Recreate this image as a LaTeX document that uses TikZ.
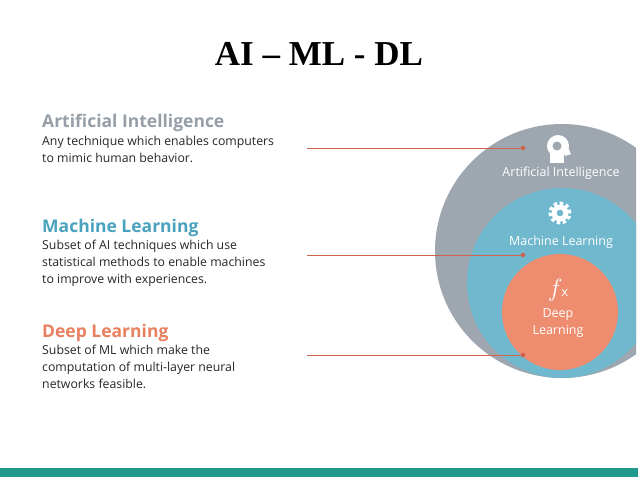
\documentclass[tikz,border=0pt]{standalone}
\usepackage{fontspec}
\setmainfont{Open Sans}
\newfontfamily\titlefont{Liberation Serif}
\definecolor{aigray}{RGB}{158,166,176}
\definecolor{mlblue}{RGB}{112,184,206}
\definecolor{dlorange}{RGB}{238,140,112}
\definecolor{hgray}{RGB}{150,158,168}
\definecolor{hblue}{RGB}{74,162,190}
\definecolor{horange}{RGB}{232,128,96}
\definecolor{teal}{RGB}{32,152,140}
\definecolor{ln}{RGB}{205,100,75}
\tikzset{x=1pt,y=-1pt,
  head/.style={anchor=base west,inner sep=0,font=\fontsize{17.5}{17.5}\selectfont\bfseries},
  body/.style={anchor=north west,inner sep=0,align=left,text=black!85,font=\fontsize{12.3}{17}\selectfont},
  lbl/.style={text=white,font=\fontsize{12.5}{15}\selectfont,align=center},
  conn/.style={ln,line width=0.8pt},
  dot/.style={circle,fill=ln,inner sep=0,minimum size=4.5pt}}
\begin{document}
\begin{tikzpicture}
\useasboundingbox (0,0) rectangle (638,479);
\fill[white] (0,0) rectangle (638,479);
\node[font=\titlefont\fontsize{35}{35}\selectfont\bfseries] (t) at (319,54) {AI \textendash{} ML - DL};
\begin{scope}
\clip (0,0) rectangle (636,479);
\fill[aigray] (562,251) circle (127);
\fill[mlblue] (562,283) circle (95);
\fill[dlorange] (560,312) circle (58);
\end{scope}
\fill[teal] (0,468) rectangle (638,477);
\node[lbl] (ail) at (561,173) {Artificial Intelligence};
\node[lbl] (mll) at (561,242) {Machine Learning};
\node[lbl,font=\fontsize{12.5}{17}\selectfont] (dll) at (558,323) {Deep\\Learning};
\node[text=white,font=\fontsize{26}{26}\selectfont\itshape] (fx) at (558,290) {$f$\kern-1pt{\fontsize{13}{13}\selectfont\upshape x}};
% brain head icon
\fill[white] (558,146) circle (11);
\fill[white] (550,150) rectangle (564,163);
\fill[white] (567,145) -- (571,154) -- (565,156) -- cycle;
\fill[aigray] (557,146) circle (4.5);
% gear icon
\node[draw=white,line width=4pt,dash pattern=on 3.3pt off 2.6pt,circle,minimum size=19pt,inner sep=0] (gear) at (560,213) {};
\fill[white] (560,213) circle (8.5);
\fill[mlblue] (560,213) circle (3.3);
\node[head,text=hgray] (h1) at (42,127) {Artificial Intelligence};
\node[body] (b1) at (42,136) {Any technique which enables computers\\to mimic human behavior.};
\node[head,text=hblue] (h2) at (42,232) {Machine Learning};
\node[body] (b2) at (42,240) {Subset of AI techniques which use\\statistical methods to enable machines\\to improve with experiences.};
\node[head,text=horange] (h3) at (42,337) {Deep Learning};
\node[body] (b3) at (42,345) {Subset of ML which make the\\computation of multi-layer neural\\networks feasible.};
\node[dot] (d1) at (523,148) {};
\node[dot] (d2) at (523,255) {};
\node[dot] (d3) at (523,355) {};
\coordinate (s1) at (307,148);
\coordinate (s2) at (307,255);
\coordinate (s3) at (307,355);
\draw[conn] (s1) -- (d1);
\draw[conn] (s2) -- (d2);
\draw[conn] (s3) -- (d3);
\end{tikzpicture}
\end{document}
